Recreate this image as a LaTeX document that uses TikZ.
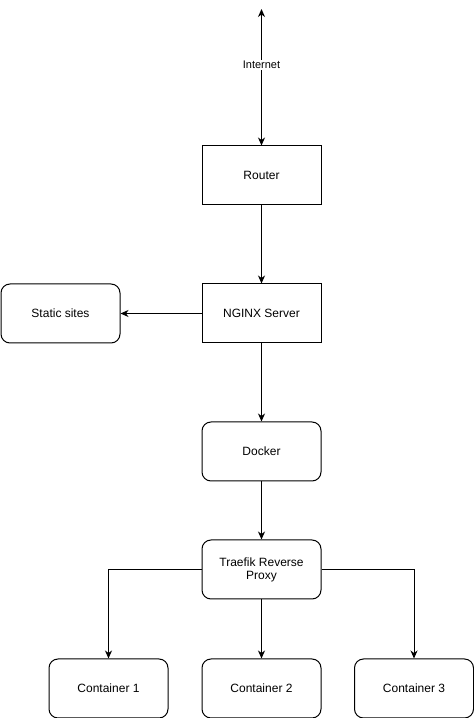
\documentclass[tikz,border=0pt]{standalone}
\usepackage{fontspec}
\setmainfont{Liberation Sans}
\usetikzlibrary{arrows.meta}
\begin{document}
\begin{tikzpicture}[x=1pt,y=1pt,
  box/.style={draw=black, line width=1pt, minimum width=119pt, minimum height=59pt, inner sep=0pt, font=\fontsize{12}{14}\selectfont, align=center},
  rbox/.style={box, rounded corners=9pt},
  conn/.style={line width=1pt, -{Stealth[length=8pt,width=7pt,inset=2.5pt]}},
  lbl/.style={fill=white, inner sep=1pt, font=\fontsize{11}{13}\selectfont}]
\useasboundingbox (0,0) rectangle (474,718);
\node[box]  (router) at (261.5,542.5) {Router};
\node[box]  (nginx)  at (261.5,404.5) {NGINX Server};
\node[rbox] (static) at (60.5,404.5) {Static sites};
\node[rbox] (docker) at (261.5,266.5) {Docker};
\node[rbox] (traefik) at (261.5,148.5) {Traefik Reverse\\[-1pt]Proxy};
\node[rbox] (c1) at (108.5,29.5) {Container 1};
\node[rbox] (c2) at (261.5,29.5) {Container 2};
\node[rbox] (c3) at (414,29.5) {Container 3};
\coordinate (net) at (261.5,709);
\draw[line width=1pt, {Stealth[length=8pt,width=7pt,inset=2.5pt]}-{Stealth[length=8pt,width=7pt,inset=2.5pt]}] (net) -- node[lbl, pos=0.41] (internet) {Internet} (router.north);
\draw[conn] (router) -- (nginx);
\draw[conn] (nginx) -- (static);
\draw[conn] (nginx) -- (docker);
\draw[conn] (docker) -- (traefik);
\draw[conn] (traefik) -- (c2);
\draw[conn] (traefik.west) -| (c1.north);
\draw[conn] (traefik.east) -| (c3.north);
\end{tikzpicture}
\end{document}
